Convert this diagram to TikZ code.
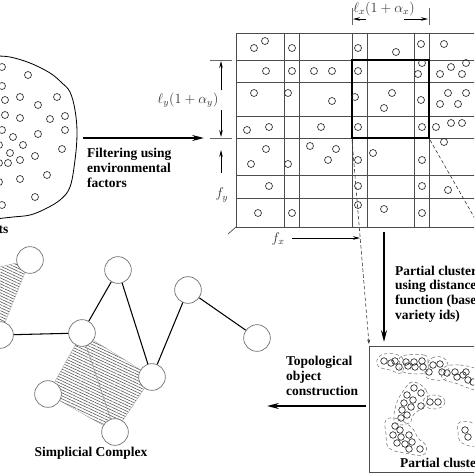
\documentclass[tikz,border=0pt]{standalone}
\usepackage{fontspec}
\setmainfont{Liberation Serif}
\usetikzlibrary{arrows.meta, patterns.meta, backgrounds}

\begin{document}
\begin{tikzpicture}[
  x=0.03cm, y=-0.03cm,
  >=Stealth,
  gridline/.style={draw=black!70, line width=0.6pt},
  dot/.style={draw=black!85, line width=0.55pt},
  bigarrow/.style={-{Stealth[length=10pt,width=5pt]}, line width=1.6pt},
  dimarrow/.style={-{Stealth[length=6pt,width=3pt]}, line width=0.6pt},
  tickline/.style={draw=black!60, line width=0.6pt},
  lbl/.style={font=\bfseries\fontsize{11.5}{12.6}\selectfont, inner sep=0pt, align=left},
  mlbl/.style={font=\fontsize{12}{14}\selectfont, inner sep=0pt, text=black!80},
  vertex/.style={circle, draw=black!55, fill=white, line width=0.6pt, minimum size=0.8cm, inner sep=0pt},
  edge/.style={line width=0.9pt},
  hatch/.style={pattern={Lines[angle=-25,distance=2.3pt,line width=0.45pt]}, pattern color=black!70, draw=black!35, line width=0.3pt},
  envelope/.style={draw=black!55, densely dashed, line width=0.45pt},
  guide/.style={densely dashed, line width=0.5pt, black!80}
]
  \useasboundingbox (0,0) rectangle (474,474);
  \begin{scope}[on background layer]
    \fill[white] (0,0) rectangle (474,474);
  \end{scope}
  \clip (0,0) rectangle (474,474);

  % Field with plants
  \draw[line width=0.7pt] plot[smooth, tension=0.6] coordinates {(-5,56) (10,57) (30,63) (50,73) (62,83) (70,92) (75,110) (77,133) (75,160) (70,187) (60,200) (45,209) (30,215) (13,217) (-5,219)};
  \foreach \x/\y in {2/67, 28/75, 2/86, 5/100, 20/97, 38/105, 57/97, 5/115, 20/118, 50/119, 65/116, 2/130, 65/130, 13/137, 38/134, 23/145, 10/153, 62/149, 35/156, 20/160, 8/163, 47/175, 20/179, 35/197, 2/205, -1/145, -1/163, -1/182}
    \draw[dot] (\x,\y) circle (3.5);
  \node[lbl, anchor=east] (fieldtxt) at (8.5,230) {ts};

  % Step 1: filtering
  \coordinate (filterstart) at (83,138);
  \coordinate (filterend) at (204,138);
  \draw[bigarrow] (filterstart) -- (filterend);
  \node[lbl, anchor=west] (filtertxt) at (87,168) {Filtering using\\environmental\\factors};

  % Grid of cells
  \foreach \y in {33,60,82,116,138,175,198,227}
    \draw[gridline] (236,\y) -- (480,\y);
  \foreach \x in {236,284,299,352,367,414,429}
    \draw[gridline] (\x,33) -- (\x,227);
  \draw[gridline] (236,227) -- (228,234);
  \draw[line width=1.6pt] (352,60) rectangle (429,138);
  \foreach \x/\y in {254/48, 265/41, 292/48, 358/48, 396/52, 421/44, 444/44,
                     266/71, 292/71, 314/71, 332/71, 358/71, 422/63, 418/74, 440/74, 451/67, 462/74, 466/63,
                     254/93, 288/93, 332/101, 355/97, 392/93, 384/108, 421/100, 440/104, 448/93, 458/104, 466/93,
                     247/130, 269/127, 321/127, 358/127, 422/127, 436/127, 451/123, 462/123,
                     266/149, 251/164, 288/164, 310/146, 336/149, 328/160, 358/160, 373/153, 422/160, 444/142,
                     269/186, 358/186, 422/186, 448/190,
                     258/213, 292/213, 358/205, 384/209, 422/213}
    \draw[dot] (\x,\y) circle (3.5);

  % Cell size marks
  \draw[tickline] (352,8) -- (352,25);
  \draw[tickline] (429,8) -- (429,25);
  \draw[dimarrow] (366,19) -- (353,19);
  \draw[dimarrow] (404,19) -- (428,19);
  \node[mlbl] (lxtxt) at (384,9) {$\ell_x(1+\alpha_x)$};
  \draw[tickline] (210,60) -- (232,60);
  \draw[tickline] (210,138) -- (232,138);
  \draw[dimarrow] (221,90) -- (221,61);
  \draw[dimarrow] (221,110) -- (221,137);
  \node[mlbl] (lytxt) at (188,100) {$\ell_y(1+\alpha_y)$};
  \draw[dimarrow] (221,173) -- (221,150);
  \node[mlbl] (fytxt) at (222,195) {$f_y$};
  \draw[dimarrow] (292,238) -- (360,238);
  \node[mlbl] (fxtxt) at (278,239) {$f_x$};

  % Zoom guides
  \draw[guide, -{Stealth[length=4pt,width=2.5pt]}] (352,140) -- (369,344);
  \draw[guide] (430,140) -- (490,245);

  % Step 2: partial clustering
  \coordinate (clusterstart) at (384,232);
  \coordinate (clusterend) at (384,342);
  \draw[bigarrow] (clusterstart) -- (clusterend);
  \node[lbl, anchor=west] (clustertxt) at (395,294) {Partial cluster\\using distance\\function (base\\variety ids)};

  % Partial clusters panel
  \draw[gridline, line width=0.8pt] (369,346) -- (369,472) -- (490,472);
  \draw[gridline, line width=0.8pt] (369,346) -- (490,346);
  \foreach \x/\y in {384/361, 391/363, 395/361, 399/367, 406/362, 408/366, 414/362, 415/367, 422/361, 423/367,
                     429/372, 433/365, 440/364, 442/372, 447/373, 455/372, 457/377, 463/375, 466/372, 468/380, 473/382,
                     414/388, 421/393, 407/395, 413/400, 404/403, 411/407, 421/406, 402/410, 407/415, 401/418,
                     395/426, 400/430, 393/435, 401/437, 409/435, 397/443, 405/444, 412/442, 420/449, 409/449,
                     430/402, 438/402, 465/430, 468/437}
    \draw[dot] (\x,\y) circle (3.3);
  \draw[envelope] plot[smooth cycle, tension=0.7] coordinates {(377,360) (384,354) (398,355) (404,362) (401,373) (390,370) (379,367)};
  \draw[envelope] plot[smooth cycle, tension=0.7] coordinates {(402,356) (424,355) (428,362) (425,373) (403,372) (400,364)};
  \draw[envelope] plot[smooth cycle, tension=0.7] coordinates {(425,372) (432,358) (446,360) (447,378) (430,379)};
  \draw[envelope] plot[smooth cycle, tension=0.7] coordinates {(443,368) (460,365) (480,372) (480,390) (455,383) (443,379)};
  \draw[envelope] plot[smooth cycle, tension=0.7] coordinates {(413,382) (426,390) (426,404) (414,414) (409,423) (395,423) (396,405) (404,390)};
  \draw[envelope] plot[smooth cycle, tension=0.7] coordinates {(386,420) (398,419) (412,428) (418,438) (426,446) (423,455) (405,453) (389,448) (386,434)};
  \draw[envelope] (434,402) ellipse (11 and 7);
  \draw[envelope] plot[smooth cycle, tension=0.7] coordinates {(460,422) (475,425) (478,445) (462,443) (458,432)};
  \node[lbl, anchor=base west] (paneltxt) at (400,467) {Partial cluster};

  % Step 3: topological object
  \coordinate (topostart) at (366,406);
  \coordinate (topoend) at (267,406);
  \draw[bigarrow] (topostart) -- (topoend);
  \node[lbl, anchor=west] (topotxt) at (286,376) {Topological\\object\\construction};

  % Simplicial complex
  \node[vertex] (A) at (30,260) {};
  \node[vertex] (B) at (0,335) {};
  \node[vertex] (C) at (82,333) {};
  \node[vertex] (D) at (118,270) {};
  \node[vertex] (E) at (188,290) {};
  \node[vertex] (F) at (152,377) {};
  \node[vertex] (G) at (48,394) {};
  \node[vertex] (H) at (115,432) {};
  \node[vertex] (I) at (257,338) {};
  \coordinate (Z) at (-45,277);
  \begin{scope}[on background layer]
    \filldraw[hatch] (Z) -- (A.center) -- (B.center) -- cycle;
    \filldraw[hatch] (C.center) -- (G.center) -- (H.center) -- cycle;
    \filldraw[hatch] (C.center) -- (H.center) -- (F.center) -- cycle;
  \end{scope}
  \draw[edge] (B) -- (C);
  \draw[edge] (C) -- (D);
  \draw[edge] (D) -- (F);
  \draw[edge] (F) -- (E);
  \draw[edge] (E) -- (I);
  \node[lbl] (simplextxt) at (91,453) {Simplicial Complex};
\end{tikzpicture}
\end{document}
